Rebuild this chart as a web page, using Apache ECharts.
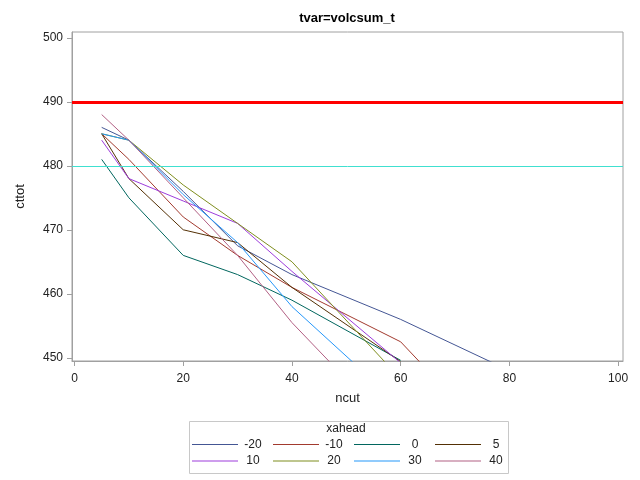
<!DOCTYPE html>
<html>
<head>
<meta charset="utf-8">
<script src="https://cdn.jsdelivr.net/npm/echarts@6/dist/echarts.min.js"></script>
<style>
html,body{margin:0;padding:0;background:#fff;}
#chart{width:640px;height:480px;}
</style>
</head>
<body>
<div id="chart"></div>
<script>
// ---- data ----
const ncut = [5, 10, 20, 30, 40, 60, 80];
const seriesNames = ['-20', '-10', '0', '5', '10', '20', '30', '40'];
const vN20 = [486, 484, 476, 467.5, 463, 456, 448];
const vN10 = [485, 481, 472, 466, 461, 452.5, 434.5];
const v0   = [481, 475, 466, 463, 459, 449.6, null];
const v5   = [485, 478, 470, 468, 461, 449.4, null];
const v10  = [484, 478, 474.5, 471, 463.5, 449.2, null];
const v20  = [485, 484, 477, 471, 465, 446.7, null];
const v30  = [485, 484, 475.5, 468, 458, 442.5, null];
const v40  = [488, 484, 475, 466, 455.5, 437.8, null];
const xTicks = [0, 20, 40, 60, 80, 100];
const yTicks = [450, 460, 470, 480, 490, 500];
const refLines = [490, 480];

const values = [vN20, vN10, v0, v5, v10, v20, v30, v40];
const colors = ['#445694', '#A23A2E', '#01665E', '#543005', '#9D3CDB', '#7F8E1F', '#2597FA', '#B26084'];

const font = 'Arial, "Liberation Sans", sans-serif';
const chart = echarts.init(document.getElementById('chart'));

const series = seriesNames.map((name, k) => {
  const s = {
    name: name,
    type: 'line',
    data: ncut.map((x, i) => [x, values[k][i]]).filter(p => p[1] !== null),
    symbol: 'none',
    clip: true,
    lineStyle: { width: 1, color: colors[k] },
    itemStyle: { color: colors[k] },
    animation: false,
    z: 3
  };
  if (k === 0) {
    s.markLine = {
      silent: true,
      symbol: 'none',
      label: { show: false },
      animation: false,
      data: [
        { yAxis: refLines[0], lineStyle: { color: '#FF0000', width: 3, type: 'solid' } },
        { yAxis: refLines[1], lineStyle: { color: '#40E0D0', width: 1, type: 'solid' } }
      ]
    };
  }
  return s;
});

const legendItems = seriesNames.map((name, k) => ({
  name: name,
  icon: 'rect',
  itemStyle: { color: colors[k], borderWidth: 0 }
}));

chart.setOption({
  animation: false,
  backgroundColor: '#ffffff',
  title: [
    { text: 'tvar=volcsum_t', left: 347, top: 12, padding: 0, textAlign: 'center',
      textStyle: { fontFamily: font, fontSize: 13, fontWeight: 'bold', color: '#000' } },
    { text: 'xahead', left: 346, top: 423, padding: 0, textAlign: 'center',
      textStyle: { fontFamily: font, fontSize: 12, fontWeight: 'normal', color: '#222' } }
  ],
  legend: {
    left: 192,
    top: 437,
    width: 332,
    orient: 'horizontal',
    icon: 'rect',
    itemWidth: 46,
    itemHeight: 1,
    itemGap: 1.5,
    padding: 0,
    formatter: '{a|{name}}',
    textStyle: {
      fontFamily: font, fontSize: 12, color: '#222',
      rich: { a: { width: 20, height: 15, lineHeight: 15, align: 'center', padding: [0, 8.5, 0, 0],
                   fontFamily: font, fontSize: 12, color: '#222' } }
    },
    selectedMode: false,
    data: legendItems
  },
  grid: {
    left: 72, right: 17, top: 32, bottom: 119,
    show: true, borderColor: '#A0A0A0', borderWidth: 1, backgroundColor: 'transparent'
  },
  xAxis: {
    type: 'value', min: -0.46, max: 100.9,
    name: 'ncut', nameLocation: 'middle', nameGap: 31,
    nameTextStyle: { fontFamily: font, fontSize: 13, color: '#222' },
    axisLine: { show: true, onZero: false, lineStyle: { color: '#A0A0A0' } },
    axisTick: { show: true, length: 5, lineStyle: { color: '#A0A0A0' }, customValues: xTicks },
    axisLabel: { fontFamily: font, fontSize: 12, color: '#222', margin: 12, customValues: xTicks },
    splitLine: { show: false }
  },
  yAxis: {
    type: 'value', min: 449.5, max: 500.9,
    name: 'cttot', nameLocation: 'middle', nameGap: 45,
    nameTextStyle: { fontFamily: font, fontSize: 13, color: '#222' },
    axisLine: { show: true, onZero: false, lineStyle: { color: '#A0A0A0' } },
    axisTick: { show: true, length: 5, lineStyle: { color: '#A0A0A0' }, customValues: yTicks },
    axisLabel: { fontFamily: font, fontSize: 12, color: '#222', margin: 9, customValues: yTicks },
    splitLine: { show: false }
  },
  graphic: [
    { type: 'rect', left: 187, top: 419, shape: { width: 319, height: 52 },
      style: { fill: 'none', stroke: '#C8C8C8', lineWidth: 1 }, silent: true }
  ],
  series: series
});
</script>
</body>
</html>
